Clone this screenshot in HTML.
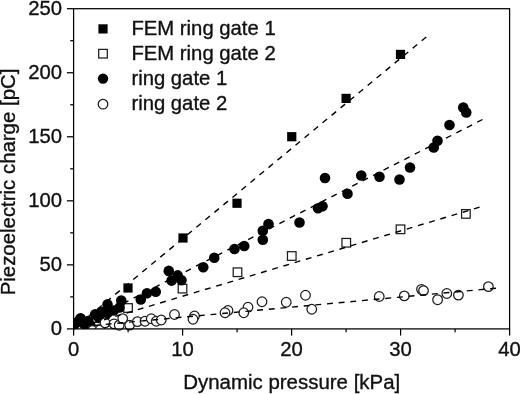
<!DOCTYPE html>
<html><head><meta charset="utf-8"><title>Piezoelectric charge vs dynamic pressure</title>
<style>html,body{margin:0;padding:0;background:#fff}svg{display:block}text{font-family:"Liberation Sans",sans-serif;font-size:20.3px;fill:#111;stroke:#111;stroke-width:0.35px}</style></head><body>
<svg width="520" height="394" viewBox="0 0 520 394">
<rect width="520" height="394" fill="#fff"/>
<clipPath id="cp"><rect x="73.6" y="8.7" width="436.0" height="320.2"/></clipPath>
<g fill="#000">
<rect x="123.40" y="283.40" width="9.2" height="9.2"/>
<rect x="178.40" y="233.40" width="9.2" height="9.2"/>
<rect x="232.40" y="198.65" width="9.2" height="9.2"/>
<rect x="287.15" y="132.10" width="9.2" height="9.2"/>
<rect x="341.50" y="93.80" width="9.2" height="9.2"/>
<rect x="395.90" y="49.80" width="9.2" height="9.2"/>
</g>
<g fill="#fff" stroke="#1c1c1c" stroke-width="1.25">
<rect x="123.70" y="303.70" width="8.6" height="8.6"/>
<rect x="178.20" y="284.30" width="8.6" height="8.6"/>
<rect x="233.20" y="267.95" width="8.6" height="8.6"/>
<rect x="287.45" y="251.70" width="8.6" height="8.6"/>
<rect x="341.95" y="238.45" width="8.6" height="8.6"/>
<rect x="396.20" y="225.00" width="8.6" height="8.6"/>
<rect x="461.60" y="209.60" width="8.6" height="8.6"/>
</g>
<g fill="#000">
<circle cx="74.5" cy="324.5" r="5.3" clip-path="url(#cp)"/>
<circle cx="77.5" cy="322" r="5.3" clip-path="url(#cp)"/>
<circle cx="80.5" cy="318.2" r="5.3"/>
<circle cx="84" cy="324" r="5.3" clip-path="url(#cp)"/>
<circle cx="88" cy="321" r="5.3"/>
<circle cx="90" cy="324.5" r="5.3" clip-path="url(#cp)"/>
<circle cx="95.2" cy="314.2" r="5.3"/>
<circle cx="99" cy="318" r="5.3"/>
<circle cx="101.5" cy="312" r="5.3"/>
<circle cx="113.75" cy="310.5" r="5.3"/>
<circle cx="107.5" cy="304.4" r="5.3"/>
<circle cx="107.5" cy="313.1" r="5.3"/>
<circle cx="121.25" cy="300.6" r="5.3"/>
<circle cx="119.5" cy="307.5" r="5.3"/>
<circle cx="140.75" cy="299.5" r="5.3"/>
<circle cx="147" cy="293.25" r="5.3"/>
<circle cx="155.75" cy="291.75" r="5.3"/>
<circle cx="168.75" cy="270.9" r="5.3"/>
<circle cx="171.6" cy="280.6" r="5.3"/>
<circle cx="177.7" cy="275.4" r="5.3"/>
<circle cx="181.5" cy="280.2" r="5.3"/>
<circle cx="203.25" cy="267.25" r="5.3"/>
<circle cx="214.25" cy="257.75" r="5.3"/>
<circle cx="234.5" cy="249" r="5.3"/>
<circle cx="244.25" cy="246" r="5.3"/>
<circle cx="262.8" cy="239.8" r="5.3"/>
<circle cx="262.8" cy="230.8" r="5.3"/>
<circle cx="268.5" cy="224" r="5.3"/>
<circle cx="299.5" cy="222.5" r="5.3"/>
<circle cx="318" cy="208.25" r="5.3"/>
<circle cx="322.5" cy="206.25" r="5.3"/>
<circle cx="325" cy="178" r="5.3"/>
<circle cx="347.5" cy="193.75" r="5.3"/>
<circle cx="361.25" cy="175.5" r="5.3"/>
<circle cx="379.5" cy="176.75" r="5.3"/>
<circle cx="399.5" cy="179.5" r="5.3"/>
<circle cx="410" cy="167.5" r="5.3"/>
<circle cx="433.75" cy="147.5" r="5.3"/>
<circle cx="437.5" cy="140.75" r="5.3"/>
<circle cx="449.5" cy="125" r="5.3"/>
<circle cx="463.25" cy="107.5" r="5.3"/>
<circle cx="466.25" cy="112.5" r="5.3"/>
</g>
<g fill="#fff" stroke="#1c1c1c" stroke-width="1.25">
<circle cx="92.5" cy="330.5" r="4.8" clip-path="url(#cp)"/>
<circle cx="100" cy="330" r="4.8" clip-path="url(#cp)"/>
<circle cx="105" cy="322.8" r="4.8"/>
<circle cx="114" cy="323.8" r="4.8"/>
<circle cx="119.2" cy="325.2" r="4.8"/>
<circle cx="129.6" cy="325.1" r="4.8"/>
<circle cx="122.7" cy="318.6" r="4.8"/>
<circle cx="137.4" cy="321.6" r="4.8"/>
<circle cx="145" cy="321.25" r="4.8"/>
<circle cx="151.25" cy="318.75" r="4.8"/>
<circle cx="156.25" cy="321.25" r="4.8"/>
<circle cx="161.25" cy="320" r="4.8"/>
<circle cx="174.5" cy="314.5" r="4.8"/>
<circle cx="194.5" cy="316" r="4.8"/>
<circle cx="193" cy="319.25" r="4.8"/>
<circle cx="228" cy="310.5" r="4.8"/>
<circle cx="225" cy="312.75" r="4.8"/>
<circle cx="248" cy="307.25" r="4.8"/>
<circle cx="243.75" cy="312.75" r="4.8"/>
<circle cx="262" cy="301.75" r="4.8"/>
<circle cx="286.25" cy="302.25" r="4.8"/>
<circle cx="305.5" cy="295.25" r="4.8"/>
<circle cx="311.75" cy="309.25" r="4.8"/>
<circle cx="379.25" cy="296.5" r="4.8"/>
<circle cx="404.3" cy="295.9" r="4.8"/>
<circle cx="421.5" cy="289.3" r="4.8"/>
<circle cx="423.5" cy="290.6" r="4.8"/>
<circle cx="437.6" cy="299.7" r="4.8"/>
<circle cx="446.8" cy="293.5" r="4.8"/>
<circle cx="458.4" cy="295.1" r="4.8"/>
<circle cx="488.4" cy="286.6" r="4.8"/>
</g>
<g stroke="#000" stroke-width="1.4" fill="none">
<line x1="426.25" y1="37" x2="73.6" y2="328.9" stroke-dasharray="5.9 5.8"/>
<line x1="482.5" y1="119.5" x2="73.6" y2="328.9" stroke-dasharray="5.9 5.8"/>
<line x1="479.6" y1="207.2" x2="73.6" y2="328.9" stroke-dasharray="5.9 5.8"/>
<line x1="496" y1="288.2" x2="73.6" y2="327.3" stroke-dasharray="5.9 5.8"/>
</g>
<g stroke="#000" stroke-width="1.25" fill="none">
<rect x="73.6" y="8.7" width="436.0" height="320.2"/>
<line x1="66.89999999999999" y1="328.90" x2="73.6" y2="328.90"/>
<line x1="70.19999999999999" y1="296.88" x2="73.6" y2="296.88"/>
<line x1="66.89999999999999" y1="264.86" x2="73.6" y2="264.86"/>
<line x1="70.19999999999999" y1="232.84" x2="73.6" y2="232.84"/>
<line x1="66.89999999999999" y1="200.82" x2="73.6" y2="200.82"/>
<line x1="70.19999999999999" y1="168.80" x2="73.6" y2="168.80"/>
<line x1="66.89999999999999" y1="136.78" x2="73.6" y2="136.78"/>
<line x1="70.19999999999999" y1="104.76" x2="73.6" y2="104.76"/>
<line x1="66.89999999999999" y1="72.74" x2="73.6" y2="72.74"/>
<line x1="70.19999999999999" y1="40.72" x2="73.6" y2="40.72"/>
<line x1="66.89999999999999" y1="8.70" x2="73.6" y2="8.70"/>
<line x1="73.60" y1="328.9" x2="73.60" y2="335.59999999999997"/>
<line x1="128.10" y1="328.9" x2="128.10" y2="332.29999999999995"/>
<line x1="182.60" y1="328.9" x2="182.60" y2="335.59999999999997"/>
<line x1="237.10" y1="328.9" x2="237.10" y2="332.29999999999995"/>
<line x1="291.60" y1="328.9" x2="291.60" y2="335.59999999999997"/>
<line x1="346.10" y1="328.9" x2="346.10" y2="332.29999999999995"/>
<line x1="400.60" y1="328.9" x2="400.60" y2="335.59999999999997"/>
<line x1="455.10" y1="328.9" x2="455.10" y2="332.29999999999995"/>
<line x1="509.60" y1="328.9" x2="509.60" y2="335.59999999999997"/>
</g>
<text x="62.0" y="334.80" text-anchor="end">0</text>
<text x="62.0" y="270.76" text-anchor="end">50</text>
<text x="62.0" y="206.72" text-anchor="end">100</text>
<text x="62.0" y="142.68" text-anchor="end">150</text>
<text x="62.0" y="78.64" text-anchor="end">200</text>
<text x="62.0" y="14.60" text-anchor="end">250</text>
<text x="73.60" y="355.7" text-anchor="middle">0</text>
<text x="182.60" y="355.7" text-anchor="middle">10</text>
<text x="291.60" y="355.7" text-anchor="middle">20</text>
<text x="400.60" y="355.7" text-anchor="middle">30</text>
<text x="509.60" y="355.7" text-anchor="middle">40</text>
<text x="291.75" y="389" text-anchor="middle" style="font-size:20.45px">Dynamic pressure [kPa]</text>
<text transform="translate(15.3,295.3) rotate(-90)" style="font-size:20.4px">Piezoelectric charge [pC]</text>
<rect x="98.4" y="24.3" width="9.2" height="9.2" fill="#000"/>
<rect x="98.7" y="49.4" width="8.6" height="8.6" fill="#fff" stroke="#1c1c1c" stroke-width="1.25"/>
<circle cx="103" cy="78.6" r="5.2" fill="#000"/>
<circle cx="103" cy="104.2" r="4.8" fill="#fff" stroke="#1c1c1c" stroke-width="1.25"/>
<text x="131.4" y="35.2">FEM ring gate 1</text>
<text x="131.4" y="60.2">FEM ring gate 2</text>
<text x="131.4" y="85.2">ring gate 1</text>
<text x="131.4" y="110.2">ring gate 2</text>
</svg></body></html>
